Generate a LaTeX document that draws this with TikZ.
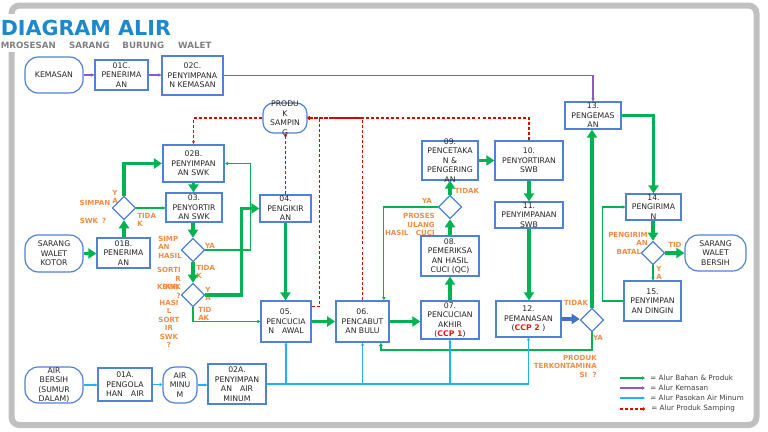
\documentclass[tikz,border=0pt]{standalone}
\usepackage{fontspec}
\setmainfont{DejaVu Sans}
\usetikzlibrary{arrows.meta,shapes.geometric}
\pgfdeclarelayer{bg}
\pgfsetlayers{bg,main}
\definecolor{boxblue}{RGB}{79,129,214}
\definecolor{flowgreen}{RGB}{0,178,80}
\definecolor{packpurple}{RGB}{140,90,200}
\definecolor{waterblue}{RGB}{30,180,240}
\definecolor{sidered}{RGB}{225,0,0}
\definecolor{orangelab}{RGB}{242,140,70}
\definecolor{ccpred}{RGB}{250,20,20}
\definecolor{framegray}{RGB}{192,192,192}
\definecolor{titleblue}{RGB}{30,136,204}
\definecolor{subgray}{RGB}{128,128,128}
\definecolor{arrowblue}{RGB}{68,114,196}
\newcommand\mkbox[7][]{%
  \node[box,#1,minimum width={(#5-#3)*0.75pt},minimum height={(#6-#4)*0.75pt}] (#2) at ({(#3+#5)/2},{(#4+#6)/2}) {};
  \node[boxtxt] (#2-t) at (#2.center) {#7};}
\begin{document}
\begin{tikzpicture}[x=0.75pt,y=-0.75pt,
  box/.style={rectangle,draw=boxblue,line width=0.9pt,fill=white,inner sep=0pt},
  term/.style={rounded corners=10pt},
  boxtxt/.style={align=center,font=\fontsize{5.8}{7.1}\selectfont,inner sep=0pt,text=black!85},
  dia/.style={diamond,draw=boxblue,line width=0.9pt,fill=white,minimum width=17.5pt,minimum height=17.5pt,inner sep=0pt},
  olab/.style={font=\bfseries\fontsize{5.3}{6.4}\selectfont,text=orangelab,inner sep=0pt,align=center},
  bigflow/.style={draw=flowgreen,line width=2.6pt,-{Triangle[length=6pt,width=7.5pt]}},
  thinflow/.style={draw=flowgreen,line width=0.9pt,-{Triangle[length=2.2pt,width=2.4pt]}},
  midflow/.style={draw=flowgreen,line width=1.5pt,-{Triangle[length=2.5pt,width=3pt]}},
  blueflow/.style={draw=arrowblue,line width=2.8pt,-{Triangle[length=6pt,width=7.5pt]}},
  packline/.style={draw=packpurple,line width=1.1pt,-{Triangle[length=2.2pt,width=2.4pt]}},
  waterline/.style={draw=waterblue,line width=0.8pt,-{Triangle[length=2pt,width=2.2pt]}},
  sideline/.style={draw=sidered,line width=0.8pt,dash pattern=on 2.2pt off 1.6pt,-{Triangle[length=2pt,width=2.2pt]}},
  sidedot/.style={draw=sidered,line width=0.8pt,dash pattern=on 2.2pt off 1.6pt,-{Circle[length=2.4pt]}},
  legtxt/.style={font=\fontsize{5.4}{6.5}\selectfont,text=black!75,inner sep=0pt,anchor=west}]
\useasboundingbox (0,0) rectangle (768,432);

\begin{pgfonlayer}{bg}
  \draw[draw=framegray,line width=4.5pt,rounded corners=6pt] (11.5,5.5) rectangle (756.5,425);
  \fill[white] (0,14) rectangle (174,52);
  \node[anchor=base west,inner sep=0pt,font=\bfseries\fontsize{15.5}{18}\selectfont,text=titleblue] (title) at (0.5,35.5) {DIAGRAM ALIR};
  \node[anchor=base west,inner sep=0pt,font=\bfseries\fontsize{6.5}{7.5}\selectfont,text=subgray] (subtitle) at (0.5,48) {MROSESAN\hspace{10pt}SARANG\hspace{9.5pt}BURUNG\hspace{10.5pt}WALET};
  % orange labels
  \node[olab] (l1) at (115,197) {Y\\A};
  \node[olab] (l2) at (95,203) {SIMPAN};
  \node[olab] (l3) at (93,221) {SWK\hspace{3pt}?};
  \node[olab,align=left,anchor=west] (l4) at (137,220) {TIDA\\K};
  \node[olab,align=left,anchor=west] (l5) at (158,247) {SIMP\\AN\\HASIL};
  \node[olab] (l6) at (210,246) {YA};
  \node[olab,align=left,anchor=west] (l7) at (196,272) {TIDA\\K};
  \node[olab,align=right,anchor=east] (l8) at (181,283) {SORTI\\R\\SWK\\?};
  \node[olab] (l9) at (168,287) {KIKIR};
  \node[olab] (l10) at (169,324) {HASI\\L\\SORT\\IR\\SWK\\?};
  \node[olab] (l11) at (208,294) {Y\\A};
  \node[olab,align=left,anchor=west] (l12) at (198,314) {TID\\AK};
  \node[olab,align=right,anchor=east] (l13) at (435,229) {PROSES\\ULANG\\HASIL\hspace{5.5pt}CUCI\\?\hspace*{3pt}};
  \node[olab] (l14) at (427,201) {YA};
  \node[olab] (l15) at (467,191) {TIDAK};
  \node[olab] (l16) at (576,303) {TIDAK};
  \node[olab] (l17) at (598,338) {YA};
  \node[olab,align=right,anchor=east] (l18) at (597,366) {PRODUK\\TERKONTAMINA\\SI\hspace{4pt}?};
  \node[olab,align=right,anchor=east] (l19) at (648,243) {PENGIRIM\\AN\\BATAL ?};
  \node[olab,anchor=west] (l20) at (668,245) {TID};
  \node[olab] (l21) at (659,273) {Y\\A};
\end{pgfonlayer}

% boxes
\mkbox[term]{kemasan}{25}{57}{83}{93}{KEMASAN}
\mkbox{c01}{95}{60}{148}{90}{01C.\\PENERIMA\\AN}
\mkbox{c02}{162}{56}{223}{95}{02C.\\PENYIMPANA\\N KEMASAN}
\mkbox[rounded corners=8pt]{produk}{263}{103}{307}{133}{PRODU\\K\\SAMPIN\\G}
\mkbox[line width=1.6pt]{b02}{163}{145}{224}{182}{02B.\\PENYIMPAN\\AN SWK}
\mkbox{b03}{166}{193}{222}{222}{03.\\PENYORTIR\\AN SWK}
\mkbox[term]{swk}{25}{235}{83}{272}{SARANG\\WALET\\KOTOR}
\mkbox{b01}{97}{238}{150}{268}{01B.\\PENERIMA\\AN}
\mkbox{b04}{260}{195}{311}{222}{04.\\PENGIKIR\\AN}
\mkbox{b05}{261}{301}{311}{342}{05.\\PENCUCIA\\N\hspace{6pt}AWAL}
\mkbox[line width=1.3pt]{b06}{336}{301}{389}{342}{06.\\PENCABUT\\AN BULU}
\mkbox{b07}{421}{301}{479}{339}{07.\\PENCUCIAN\\AKHIR\\(\textcolor{ccpred}{\bfseries CCP 1})}
\mkbox{b08}{421}{236}{479}{276}{08.\\PEMERIKSA\\AN HASIL\\CUCI (QC)}
\mkbox{b09}{422}{141}{478}{180}{09.\\PENCETAKA\\N \&\\PENGERING\\AN}
\mkbox{b10}{495}{141}{563}{180}{10.\\PENYORTIRAN\\SWB}
\mkbox{b11}{495}{202}{563}{228}{11.\\PENYIMPANAN\\SWB}
\mkbox{b12}{496}{301}{561}{337}{12.\\PEMANASAN\\(\textcolor{ccpred}{\bfseries CCP 2} )}
\mkbox{b13}{565}{102}{621}{129}{13.\\PENGEMAS\\AN}
\mkbox{b14}{626}{194}{681}{220}{14.\\PENGIRIMA\\N}
\mkbox{b15}{624}{281}{681}{321}{15.\\PENYIMPAN\\AN DINGIN}
\mkbox[term]{bersih}{685}{235}{746}{271}{SARANG\\WALET\\BERSIH}
\mkbox[term]{air}{25}{367}{83}{403}{AIR\\BERSIH\\(SUMUR\\DALAM)}
\mkbox{a01}{98}{368}{152}{401}{01A.\\PENGOLA\\HAN\hspace{6pt}AIR}
\mkbox[rounded corners=9pt]{minum}{163}{367}{197}{403}{AIR\\MINU\\M}
\mkbox{a02}{208}{364}{266}{404}{02A.\\PENYIMPAN\\AN\hspace{6pt}AIR\\MINUM}

% diamonds
\node[dia] (d1) at (124,208) {};
\node[dia] (d2) at (193,250) {};
\node[dia] (d3) at (193,295) {};
\node[dia] (d4) at (450,207) {};
\node[dia] (d5) at (592,320) {};
\node[dia] (d6) at (653,253) {};

% packaging flow
\draw[packline] (kemasan.east) -- (c01.west);
\draw[packline] (c01.east) -- (c01.east -| c02.west);
\draw[packline] (c02.east) -| (b13.north);

% material flow
\draw[bigflow] (swk.east) -- (swk.east -| b01.west);
\draw[bigflow] (b01.north -| d1.south) -- (d1.south);
\draw[bigflow] (d1.north) |- (b02.west);
\draw[thinflow] (d1.east) -- (d1.east -| b03.west);
\draw[bigflow] (b02.south) -- (b02.south |- b03.north);
\draw[bigflow] (b03.south -| d2.north) -- (d2.north);
\draw[thinflow] (d2.east) -- ++(45,0) |- (b02.east);
\draw[bigflow] (d2.south) -- (d3.north);
\draw[bigflow] (d3.east) -- ++(36,0) |- (b04.west);
\draw[thinflow] (d3.south) |- (b05.west);
\draw[bigflow] (b04.south) -- (b04.south |- b05.north);
\draw[bigflow] (b05.east) -- (b06.west);
\draw[bigflow] (b06.east) -- (b06.east -| b07.west);
\draw[bigflow] (b07.north) -- (b08.south);
\draw[bigflow] (b08.north) -- (d4.south);
\draw[bigflow] (d4.north) -- (b09.south);
\draw[thinflow] (d4.west) -| ([xshift=-4.5pt]b06.north east);
\draw[bigflow] (b09.east) -- (b10.west);
\draw[bigflow] (b10.south) -- (b11.north);
\draw[bigflow] (b11.south) -- (b11.south |- b12.north);
\draw[blueflow] (b12.east) -- (b12.east -| d5.west);
\draw[bigflow] (d5.north) -- (d5.north |- b13.south);
\draw[midflow] (d5.south) -- ++(0,18) -| ([xshift=-6.75pt]b06.south east);
\draw[bigflow] (b13.east) -| (b14.north);
\draw[bigflow] (b14.south -| d6.north) -- (d6.north);
\draw[bigflow] (d6.east) -- (d6.east -| bersih.west);
\draw[thinflow] (d6.south) -- (d6.south |- b15.north);
\draw[thinflow] (b15.west) -- ++(-21,0) |- (b14.west);

% water supply
\draw[waterline] (air.east) -- (air.east -| a01.west);
\draw[waterline] (a01.east) -- (a01.east -| minum.west);
\draw[waterline] (minum.east) -- (minum.east -| a02.west);
\draw[waterline] (a02.east) -| (b05.south);
\draw[waterline] (a02.east) -| (b06.south);
\draw[waterline] (a02.east) -| (b07.south);
\draw[waterline] (a02.east) -| (b12.south);

% by-products
\draw[sideline] (produk.west) -| (b02.north);
\draw[sideline] (b04.north) -- (b04.north |- produk.south);
\draw[sidedot] ([yshift=-4.5pt]b05.north east) -- ++(8,0) |- (produk.east);
\draw[sidedot] (b06.north) |- (produk.east);
\draw[sidedot] (b10.north) |- (produk.east);

% legend
\coordinate (g1a) at (620,378); \coordinate (g1b) at (645,378);
\coordinate (g2a) at (620,388); \coordinate (g2b) at (645,388);
\coordinate (g3a) at (620,398); \coordinate (g3b) at (645,398);
\coordinate (g4a) at (620,409); \coordinate (g4b) at (645,409);
\draw[thinflow] (g1a) -- (g1b);
\draw[packline] (g2a) -- (g2b);
\draw[waterline] (g3a) -- (g3b);
\draw[sidedot] (g4a) -- (g4b);
\node[legtxt] (g1) at (650,378) {= Alur Bahan \& Produk};
\node[legtxt] (g2) at (650,388) {= Alur Kemasan};
\node[legtxt] (g3) at (650,398) {= Alur Pasokan Air Minum};
\node[legtxt] (g4) at (651,409) {= Alur Produk Samping};
\end{tikzpicture}
\end{document}
